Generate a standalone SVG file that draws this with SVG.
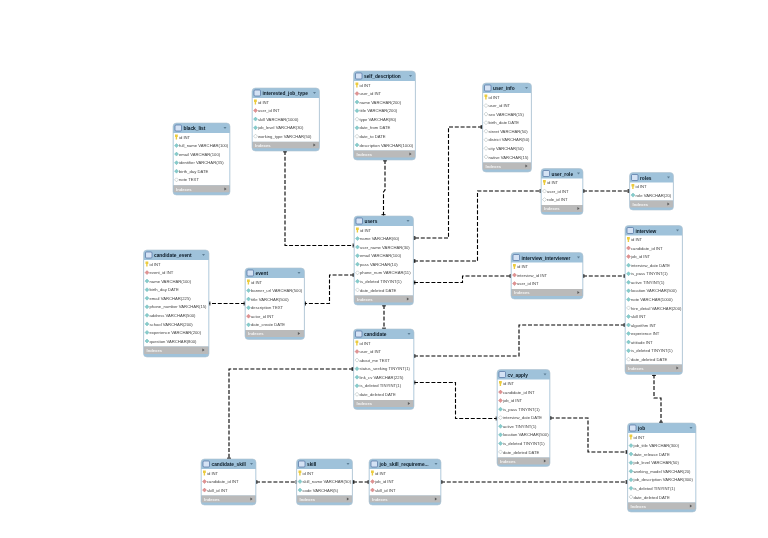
<svg xmlns="http://www.w3.org/2000/svg" width="768" height="538" viewBox="0 0 768 538">
<style>
.o{fill:#9fc2da;stroke:#b0c2d0;stroke-width:.6}
.b{fill:#fff}
.g{fill:#bababa}
.h{font:bold 4.8px "Liberation Sans",sans-serif;fill:#0c1a26}
.r{font:4.2px "Liberation Sans",sans-serif;fill:#444}
.i{font:bold 4.2px "Liberation Sans",sans-serif;fill:#f4f4f4}
.c{fill:none;stroke:#000;stroke-width:1.1;stroke-dasharray:4 1.8;marker-start:url(#m);marker-end:url(#m)}
.n{filter:url(#s)}
</style>
<defs>
<filter id="s" x="-5%" y="-5%" width="110%" height="110%"><feGaussianBlur stdDeviation="0.32"/></filter>
<marker id="m" viewBox="-3 -3 6 6" markerWidth="6" markerHeight="6" markerUnits="userSpaceOnUse" orient="auto-start-reverse" refX="0" refY="0"><path d="M-.8 -2V2M1 -2V2" stroke="#000" stroke-width="1" fill="none"/></marker>
<g id="k"><path d="M2 -2.500h2.800v2.500h-.7v2.600h-1.400v-2.600h-.7z" fill="#eccb3c"/></g>
<path id="t" d="M3.500 -2L5.500 0L3.500 2L1.500 0z" fill="#86cccc" stroke="#5aaeae" stroke-width=".4"/>
<path id="e" d="M3.500 -2L5.500 0L3.500 2L1.500 0z" fill="#e09292" stroke="#c87070" stroke-width=".4"/>
<path id="w" d="M3.500 -2L5.500 0L3.500 2L1.500 0z" fill="#fff" stroke="#8a9a9a" stroke-width=".4"/>
<g id="ic"><rect x="2" y="2" width="6.500" height="6" rx="1" fill="#d4e2f4" stroke="#3e5f94" stroke-width=".6"/></g>
<path id="d" d="M-1.500 -1.100h3L0 1.100z" fill="#5f7f96"/>
<path id="a" d="M-1.100 -1.500V1.500L1.100 0z" fill="#5a5a5a"/>
</defs>
<g id="connectors">
<path class="c" d="M285 151V245.500H354"/>
<path class="c" d="M385 160V190L383.500 192V215.500"/>
<path class="c" d="M482 127H448.500V238H414"/>
<path class="c" d="M414 261H477.500V191H541"/>
<path class="c" d="M414 282.500H462.500V276H511"/>
<path class="c" d="M583 191H629"/>
<path class="c" d="M583 276H625"/>
<path class="c" d="M354 275H329.500V303.500H304.500"/>
<path class="c" d="M245 303.500H209"/>
<path class="c" d="M353 369H229V459"/>
<path class="c" d="M384 305V329"/>
<path class="c" d="M414 356H519V325H625"/>
<path class="c" d="M414 382.500H455.500V418.500H497"/>
<path class="c" d="M550 418H588V452H627"/>
<path class="c" d="M654 374.500V398H661V423"/>
<path class="c" d="M441 482H627"/>
<path class="c" d="M256 482H297"/>
<path class="c" d="M353 482H369"/>
</g>
<g id="black_list" class="n" transform="translate(173,123)">
<rect class="o" width="57" height="72" rx="3.500"/><rect class="b" x=".6" y="10" width="55.800" height="52.300"/><rect class="g" x=".6" y="62.300" width="55.800" height="7"/>
<use href="#ic"/><text class="h" x="10.500" y="7.300">black_list</text><use href="#d" x="52" y="5"/>
<use href="#k" y="14"/><text class="r" x="6" y="15.600">id INT</text>
<use href="#t" y="22.600"/><text class="r" x="6" y="24.200">full_name VARCHAR(100)</text>
<use href="#t" y="31.100"/><text class="r" x="6" y="32.700">email VARCHAR(100)</text>
<use href="#t" y="39.700"/><text class="r" x="6" y="41.300">identifier VARCHAR(35)</text>
<use href="#t" y="48.200"/><text class="r" x="6" y="49.800">birth_day DATE</text>
<use href="#w" y="56.800"/><text class="r" x="6" y="58.400">note TEXT</text>
<text class="i" x="3" y="67.500">Indexes</text><use href="#a" x="52.500" y="66"/>
</g>
<g id="interested_job_type" class="n" transform="translate(252,88)">
<rect class="o" width="67.500" height="63" rx="3.500"/><rect class="b" x=".6" y="10" width="66.300" height="43.800"/><rect class="g" x=".6" y="53.800" width="66.300" height="6.500"/>
<use href="#ic"/><text class="h" x="10.500" y="7.300">interested_job_type</text><use href="#d" x="62.500" y="5"/>
<use href="#k" y="14"/><text class="r" x="6" y="15.600">id INT</text>
<use href="#e" y="22.600"/><text class="r" x="6" y="24.200">user_id INT</text>
<use href="#t" y="31.100"/><text class="r" x="6" y="32.700">skill VARCHAR(1000)</text>
<use href="#t" y="39.700"/><text class="r" x="6" y="41.300">job_level VARCHAR(30)</text>
<use href="#w" y="48.200"/><text class="r" x="6" y="49.800">working_type VARCHAR(50)</text>
<text class="i" x="3" y="58.700">Indexes</text><use href="#a" x="62.500" y="57"/>
</g>
<g id="self_description" class="n" transform="translate(353.500,71)">
<rect class="o" width="62" height="89" rx="3.500"/><rect class="b" x=".6" y="10" width="60.800" height="69.500"/><rect class="g" x=".6" y="79.500" width="60.800" height="7"/>
<use href="#ic"/><text class="h" x="10.500" y="7.300">self_description</text><use href="#d" x="57" y="5"/>
<use href="#k" y="14"/><text class="r" x="6" y="15.600">id INT</text>
<use href="#e" y="22.600"/><text class="r" x="6" y="24.200">user_id INT</text>
<use href="#t" y="31.100"/><text class="r" x="6" y="32.700">name VARCHAR(200)</text>
<use href="#t" y="39.700"/><text class="r" x="6" y="41.300">title VARCHAR(200)</text>
<use href="#w" y="48.200"/><text class="r" x="6" y="49.800">type VARCHAR(80)</text>
<use href="#t" y="56.800"/><text class="r" x="6" y="58.400">date_from DATE</text>
<use href="#w" y="65.300"/><text class="r" x="6" y="66.900">date_to DATE</text>
<use href="#t" y="73.900"/><text class="r" x="6" y="75.500">description VARCHAR(1000)</text>
<text class="i" x="3" y="84.700">Indexes</text><use href="#a" x="57" y="83"/>
</g>
<g id="user_info" class="n" transform="translate(482.500,83)">
<rect class="o" width="49" height="89" rx="3.500"/><rect class="b" x=".6" y="10" width="47.800" height="69.500"/><rect class="g" x=".6" y="79.500" width="47.800" height="7"/>
<use href="#ic"/><text class="h" x="10.500" y="7.300">user_info</text><use href="#d" x="44" y="5"/>
<use href="#k" y="14"/><text class="r" x="6" y="15.600">id INT</text>
<use href="#w" y="22.600"/><text class="r" x="6" y="24.200">user_id INT</text>
<use href="#w" y="31.100"/><text class="r" x="6" y="32.700">sex VARCHAR(15)</text>
<use href="#w" y="39.700"/><text class="r" x="6" y="41.300">birth_date DATE</text>
<use href="#w" y="48.200"/><text class="r" x="6" y="49.800">street VARCHAR(50)</text>
<use href="#w" y="56.800"/><text class="r" x="6" y="58.400">district VARCHAR(50)</text>
<use href="#w" y="65.300"/><text class="r" x="6" y="66.900">city VARCHAR(50)</text>
<use href="#w" y="73.900"/><text class="r" x="6" y="75.500">native VARCHAR(15)</text>
<text class="i" x="3" y="84.700">Indexes</text><use href="#a" x="44" y="83"/>
</g>
<g id="users" class="n" transform="translate(354,216)">
<rect class="o" width="59.500" height="89" rx="3.500"/><rect class="b" x=".6" y="10" width="58.300" height="69.500"/><rect class="g" x=".6" y="79.500" width="58.300" height="7"/>
<use href="#ic"/><text class="h" x="10.500" y="7.300">users</text><use href="#d" x="54" y="5"/>
<use href="#k" y="14"/><text class="r" x="6" y="15.600">id INT</text>
<use href="#t" y="22.600"/><text class="r" x="6" y="24.200">name VARCHAR(60)</text>
<use href="#t" y="31.100"/><text class="r" x="6" y="32.700">user_name VARCHAR(30)</text>
<use href="#t" y="39.700"/><text class="r" x="6" y="41.300">email VARCHAR(100)</text>
<use href="#t" y="48.200"/><text class="r" x="6" y="49.800">pass VARCHAR(10)</text>
<use href="#w" y="56.800"/><text class="r" x="6" y="58.400">phone_num VARCHAR(11)</text>
<use href="#t" y="65.300"/><text class="r" x="6" y="66.900">is_deleted TINYINT(1)</text>
<use href="#w" y="73.900"/><text class="r" x="6" y="75.500">date_deleted DATE</text>
<text class="i" x="3" y="84.700">Indexes</text><use href="#a" x="54" y="83"/>
</g>
<g id="candidate_event" class="n" transform="translate(143.500,250)">
<rect class="o" width="65.500" height="107" rx="3.500"/><rect class="b" x=".6" y="10" width="64.300" height="86.500"/><rect class="g" x=".6" y="96.500" width="64.300" height="7.500"/>
<use href="#ic"/><text class="h" x="10.500" y="7.300">candidate_event</text><use href="#d" x="60" y="5"/>
<use href="#k" y="14"/><text class="r" x="6" y="15.600">id INT</text>
<use href="#e" y="22.600"/><text class="r" x="6" y="24.200">event_id INT</text>
<use href="#t" y="31.100"/><text class="r" x="6" y="32.700">name VARCHAR(100)</text>
<use href="#t" y="39.700"/><text class="r" x="6" y="41.300">birth_day DATE</text>
<use href="#t" y="48.200"/><text class="r" x="6" y="49.800">email VARCHAR(225)</text>
<use href="#t" y="56.800"/><text class="r" x="6" y="58.400">phone_number VARCHAR(15)</text>
<use href="#t" y="65.300"/><text class="r" x="6" y="66.900">address VARCHAR(500)</text>
<use href="#t" y="73.900"/><text class="r" x="6" y="75.500">school VARCHAR(200)</text>
<use href="#t" y="82.400"/><text class="r" x="6" y="84">experience VARCHAR(200)</text>
<use href="#t" y="91"/><text class="r" x="6" y="92.600">question VARCHAR(800)</text>
<text class="i" x="3" y="101.700">Indexes</text><use href="#a" x="60" y="100"/>
</g>
<g id="event" class="n" transform="translate(245,268)">
<rect class="o" width="59.500" height="71.500" rx="3.500"/><rect class="b" x=".6" y="10" width="58.300" height="52"/><rect class="g" x=".6" y="62" width="58.300" height="7"/>
<use href="#ic"/><text class="h" x="10.500" y="7.300">event</text><use href="#d" x="54" y="5"/>
<use href="#k" y="14"/><text class="r" x="6" y="15.600">id INT</text>
<use href="#t" y="22.600"/><text class="r" x="6" y="24.200">banner_url VARCHAR(500)</text>
<use href="#t" y="31.100"/><text class="r" x="6" y="32.700">title VARCHAR(500)</text>
<use href="#t" y="39.700"/><text class="r" x="6" y="41.300">description TEXT</text>
<use href="#e" y="48.200"/><text class="r" x="6" y="49.800">actor_id INT</text>
<use href="#t" y="56.800"/><text class="r" x="6" y="58.400">date_create DATE</text>
<text class="i" x="3" y="67.200">Indexes</text><use href="#a" x="54" y="65.500"/>
</g>
<g id="user_role" class="n" transform="translate(541,168.500)">
<rect class="o" width="42" height="46" rx="3.500"/><rect class="b" x=".6" y="10" width="40.800" height="26.500"/><rect class="g" x=".6" y="36.500" width="40.800" height="7"/>
<use href="#ic"/><text class="h" x="10.500" y="7.300">user_role</text><use href="#d" x="37.500" y="5"/>
<use href="#k" y="14"/><text class="r" x="6" y="15.600">id INT</text>
<use href="#w" y="22.600"/><text class="r" x="6" y="24.200">user_id INT</text>
<use href="#w" y="31.100"/><text class="r" x="6" y="32.700">role_id INT</text>
<text class="i" x="3" y="41.700">Indexes</text><use href="#a" x="37.500" y="40"/>
</g>
<g id="roles" class="n" transform="translate(629.500,172.500)">
<rect class="o" width="44" height="37.500" rx="3.500"/><rect class="b" x=".6" y="10" width="42.800" height="18"/><rect class="g" x=".6" y="28" width="42.800" height="7"/>
<use href="#ic"/><text class="h" x="10.500" y="7.300">roles</text><use href="#d" x="39" y="5"/>
<use href="#k" y="14"/><text class="r" x="6" y="15.600">id INT</text>
<use href="#t" y="22.600"/><text class="r" x="6" y="24.200">role VARCHAR(20)</text>
<text class="i" x="3" y="33.200">Indexes</text><use href="#a" x="39" y="31.500"/>
</g>
<g id="interview_interviewer" class="n" transform="translate(511,252.500)">
<rect class="o" width="72" height="46.500" rx="3.500"/><rect class="b" x=".6" y="10" width="70.800" height="26.500"/><rect class="g" x=".6" y="36.500" width="70.800" height="7"/>
<use href="#ic"/><text class="h" x="10.500" y="7.300">interview_interviewer</text><use href="#d" x="67.500" y="5"/>
<use href="#k" y="14"/><text class="r" x="6" y="15.600">id INT</text>
<use href="#e" y="22.600"/><text class="r" x="6" y="24.200">interview_id INT</text>
<use href="#e" y="31.100"/><text class="r" x="6" y="32.700">user_id INT</text>
<text class="i" x="3" y="41.700">Indexes</text><use href="#a" x="67.500" y="40"/>
</g>
<g id="interview" class="n" transform="translate(625,225.500)">
<rect class="o" width="57.500" height="149" rx="3.500"/><rect class="b" x=".6" y="10" width="56.300" height="129"/><rect class="g" x=".6" y="139" width="56.300" height="7.500"/>
<use href="#ic"/><text class="h" x="10.500" y="7.300">interview</text><use href="#d" x="52.500" y="5"/>
<use href="#k" y="14"/><text class="r" x="6" y="15.600">id INT</text>
<use href="#e" y="22.600"/><text class="r" x="6" y="24.200">candidate_id INT</text>
<use href="#e" y="31.100"/><text class="r" x="6" y="32.700">job_id INT</text>
<use href="#t" y="39.700"/><text class="r" x="6" y="41.300">interview_date DATE</text>
<use href="#t" y="48.200"/><text class="r" x="6" y="49.800">is_pass TINYINT(1)</text>
<use href="#t" y="56.800"/><text class="r" x="6" y="58.400">active TINYINT(1)</text>
<use href="#t" y="65.300"/><text class="r" x="6" y="66.900">location VARCHAR(500)</text>
<use href="#t" y="73.900"/><text class="r" x="6" y="75.500">note VARCHAR(1000)</text>
<use href="#w" y="82.400"/><text class="r" x="6" y="84">hire_detail VARCHAR(200)</text>
<use href="#t" y="91"/><text class="r" x="6" y="92.600">skill INT</text>
<use href="#t" y="99.500"/><text class="r" x="6" y="101.100">algorithm INT</text>
<use href="#t" y="108.100"/><text class="r" x="6" y="109.700">experience INT</text>
<use href="#t" y="116.600"/><text class="r" x="6" y="118.200">attitude INT</text>
<use href="#t" y="125.200"/><text class="r" x="6" y="126.800">is_deleted TINYINT(1)</text>
<use href="#w" y="133.700"/><text class="r" x="6" y="135.300">date_deleted DATE</text>
<text class="i" x="3" y="144.200">Indexes</text><use href="#a" x="52.500" y="142.500"/>
</g>
<g id="candidate" class="n" transform="translate(353.500,329)">
<rect class="o" width="60.500" height="80.500" rx="3.500"/><rect class="b" x=".6" y="10" width="59.300" height="61"/><rect class="g" x=".6" y="71" width="59.300" height="7"/>
<use href="#ic"/><text class="h" x="10.500" y="7.300">candidate</text><use href="#d" x="55.500" y="5"/>
<use href="#k" y="14"/><text class="r" x="6" y="15.600">id INT</text>
<use href="#e" y="22.600"/><text class="r" x="6" y="24.200">user_id INT</text>
<use href="#w" y="31.100"/><text class="r" x="6" y="32.700">about_me TEXT</text>
<use href="#t" y="39.700"/><text class="r" x="6" y="41.300">status_seeking TINYINT(1)</text>
<use href="#t" y="48.200"/><text class="r" x="6" y="49.800">link_cv VARCHAR(225)</text>
<use href="#t" y="56.800"/><text class="r" x="6" y="58.400">is_deleted TINYINT(1)</text>
<use href="#w" y="65.300"/><text class="r" x="6" y="66.900">date_deleted DATE</text>
<text class="i" x="3" y="76.200">Indexes</text><use href="#a" x="55.500" y="74.500"/>
</g>
<g id="cv_apply" class="n" transform="translate(497,369.500)">
<rect class="o" width="53" height="97" rx="3.500"/><rect class="b" x=".6" y="10" width="51.800" height="78"/><rect class="g" x=".6" y="88" width="51.800" height="7"/>
<use href="#ic"/><text class="h" x="10.500" y="7.300">cv_apply</text><use href="#d" x="48" y="5"/>
<use href="#k" y="14"/><text class="r" x="6" y="15.600">id INT</text>
<use href="#e" y="22.600"/><text class="r" x="6" y="24.200">candidate_id INT</text>
<use href="#e" y="31.100"/><text class="r" x="6" y="32.700">job_id INT</text>
<use href="#t" y="39.700"/><text class="r" x="6" y="41.300">is_pass TINYINT(1)</text>
<use href="#w" y="48.200"/><text class="r" x="6" y="49.800">interview_date DATE</text>
<use href="#t" y="56.800"/><text class="r" x="6" y="58.400">active TINYINT(1)</text>
<use href="#t" y="65.300"/><text class="r" x="6" y="66.900">location VARCHAR(500)</text>
<use href="#t" y="73.900"/><text class="r" x="6" y="75.500">is_deleted TINYINT(1)</text>
<use href="#w" y="82.400"/><text class="r" x="6" y="84">date_deleted DATE</text>
<text class="i" x="3" y="93.200">Indexes</text><use href="#a" x="48" y="91.500"/>
</g>
<g id="candidate_skill" class="n" transform="translate(201,459)">
<rect class="o" width="55" height="46" rx="3.500"/><rect class="b" x=".6" y="10" width="53.800" height="26.500"/><rect class="g" x=".6" y="36.500" width="53.800" height="7"/>
<use href="#ic"/><text class="h" x="10.500" y="7.300">candidate_skill</text><use href="#d" x="50.500" y="5"/>
<use href="#k" y="14"/><text class="r" x="6" y="15.600">id INT</text>
<use href="#e" y="22.600"/><text class="r" x="6" y="24.200">candidate_id INT</text>
<use href="#e" y="31.100"/><text class="r" x="6" y="32.700">skill_id INT</text>
<text class="i" x="3" y="41.700">Indexes</text><use href="#a" x="50.500" y="40"/>
</g>
<g id="skill" class="n" transform="translate(296.500,459)">
<rect class="o" width="56" height="46" rx="3.500"/><rect class="b" x=".6" y="10" width="54.800" height="26.500"/><rect class="g" x=".6" y="36.500" width="54.800" height="7"/>
<use href="#ic"/><text class="h" x="10.500" y="7.300">skill</text><use href="#d" x="51.500" y="5"/>
<use href="#k" y="14"/><text class="r" x="6" y="15.600">id INT</text>
<use href="#t" y="22.600"/><text class="r" x="6" y="24.200">skill_name VARCHAR(50)</text>
<use href="#t" y="31.100"/><text class="r" x="6" y="32.700">code VARCHAR(5)</text>
<text class="i" x="3" y="41.700">Indexes</text><use href="#a" x="51.500" y="40"/>
</g>
<g id="job_skill_requirement" class="n" transform="translate(369,459)">
<rect class="o" width="72" height="46" rx="3.500"/><rect class="b" x=".6" y="10" width="70.800" height="26.500"/><rect class="g" x=".6" y="36.500" width="70.800" height="7"/>
<use href="#ic"/><text class="h" x="10.500" y="7.300">job_skill_requireme...</text><use href="#d" x="67" y="5"/>
<use href="#k" y="14"/><text class="r" x="6" y="15.600">id INT</text>
<use href="#e" y="22.600"/><text class="r" x="6" y="24.200">job_id INT</text>
<use href="#e" y="31.100"/><text class="r" x="6" y="32.700">skill_id INT</text>
<text class="i" x="3" y="41.700">Indexes</text><use href="#a" x="67" y="40"/>
</g>
<g id="job" class="n" transform="translate(627.500,423)">
<rect class="o" width="68.500" height="89" rx="3.500"/><rect class="b" x=".6" y="10" width="67.300" height="69.500"/><rect class="g" x=".6" y="79.500" width="67.300" height="7"/>
<use href="#ic"/><text class="h" x="10.500" y="7.300">job</text><use href="#d" x="63.500" y="5"/>
<use href="#k" y="14"/><text class="r" x="6" y="15.600">id INT</text>
<use href="#t" y="22.600"/><text class="r" x="6" y="24.200">job_title VARCHAR(300)</text>
<use href="#t" y="31.100"/><text class="r" x="6" y="32.700">date_release DATE</text>
<use href="#t" y="39.700"/><text class="r" x="6" y="41.300">job_level VARCHAR(50)</text>
<use href="#t" y="48.200"/><text class="r" x="6" y="49.800">working_model VARCHAR(20)</text>
<use href="#t" y="56.800"/><text class="r" x="6" y="58.400">job_description VARCHAR(300)</text>
<use href="#t" y="65.300"/><text class="r" x="6" y="66.900">is_deleted TINYINT(1)</text>
<use href="#w" y="73.900"/><text class="r" x="6" y="75.500">date_deleted DATE</text>
<text class="i" x="3" y="84.700">Indexes</text><use href="#a" x="63.500" y="83"/>
</g>
</svg>
